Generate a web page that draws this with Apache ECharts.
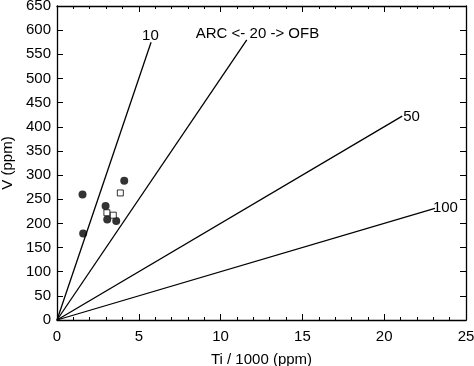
<!DOCTYPE html>
<html><head><meta charset="utf-8">
<script src="https://cdn.jsdelivr.net/npm/echarts@6/dist/echarts.min.js"></script>
<style>html,body{margin:0;padding:0;background:#fff}#c{width:474px;height:366px}</style>
</head><body><div id="c"></div>
<script>
// Ti/1000 (ppm), V (ppm)
const filledTi = [1.56, 1.6, 2.97, 3.07, 3.62, 4.11];
const filledV  = [260, 179, 236, 208, 205, 288];
const openTi = [3.05, 3.44, 3.87];
const openV  = [222, 217, 263];
// Ti/V reference lines: label, end point
const refLabels = ['10', 'ARC <- 20 -> OFB', '50', '100'];
const refEndTi = [5.75, 11.6, 21.1, 23.1];
const refEndV  = [575, 580, 422, 231];
const xTicks = [0, 5, 10, 15, 20, 25];
const yMax = 650;

const font = 'Liberation Sans, Arial, sans-serif';
const labelOffsets = [[-9, -6], [-51, -6], [1, 1], [-2, -1]];
const series = [];
refLabels.forEach((lab, i) => {
  series.push({
    type: 'line', symbol: 'none', showSymbol: false, silent: true,
    lineStyle: {color: '#000', width: 1.3},
    endLabel: {show: true, formatter: lab, color: '#000', fontSize: 15, fontFamily: font,
      distance: 0, offset: labelOffsets[i]},
    data: [[0, 0], [refEndTi[i], refEndV[i]]]
  });
});
series.push({
  type: 'scatter', symbol: 'circle', symbolSize: 8,
  itemStyle: {color: '#000'},
  data: filledTi.map((t, i) => [t, filledV[i]])
});
series.push({
  type: 'scatter', symbol: 'rect', symbolSize: 6,
  itemStyle: {color: '#fff', borderColor: '#000', borderWidth: 1},
  data: openTi.map((t, i) => [t, openV[i]])
});

const axLine = {show: true, onZero: false, lineStyle: {color: '#000', width: 1.3}};
const tick = {show: true, inside: true, length: 6, lineStyle: {color: '#000'}};
const minor = {show: true, splitNumber: 5, length: 3, lineStyle: {color: '#000'}};
const chart = echarts.init(document.getElementById('c'));
chart.setOption({
  animation: false,
  backgroundColor: '#fff',
  grid: {left: 57, right: 8, top: 6, bottom: 46, containLabel: false, outerBoundsMode: 'none'},
  xAxis: [
    {type: 'value', min: xTicks[0], max: xTicks[xTicks.length - 1], interval: 5, position: 'bottom',
     name: 'Ti / 1000 (ppm)', nameLocation: 'middle', nameGap: 32,
     nameTextStyle: {color: '#000', fontSize: 15, fontFamily: font},
     axisLine: axLine, axisTick: tick, minorTick: minor,
     axisLabel: {color: '#000', fontSize: 15, fontFamily: font, margin: 9},
     splitLine: {show: false}, minorSplitLine: {show: false}},
    {type: 'value', min: xTicks[0], max: xTicks[xTicks.length - 1], interval: 5, position: 'top',
     axisLine: axLine, axisTick: tick, minorTick: minor,
     axisLabel: {show: false}, splitLine: {show: false}}
  ],
  yAxis: [
    {type: 'value', min: 0, max: yMax, interval: 50, position: 'left',
     name: 'V (ppm)', nameLocation: 'middle', nameGap: 40,
     nameTextStyle: {color: '#000', fontSize: 15, fontFamily: font},
     axisLine: axLine, axisTick: tick,
     axisLabel: {color: '#000', fontSize: 15, fontFamily: font, margin: 6},
     splitLine: {show: false}},
    {type: 'value', min: 0, max: yMax, interval: 50, position: 'right',
     axisLine: axLine, axisTick: tick,
     axisLabel: {show: false}, splitLine: {show: false}}
  ],
  series: series
});
</script></body></html>
